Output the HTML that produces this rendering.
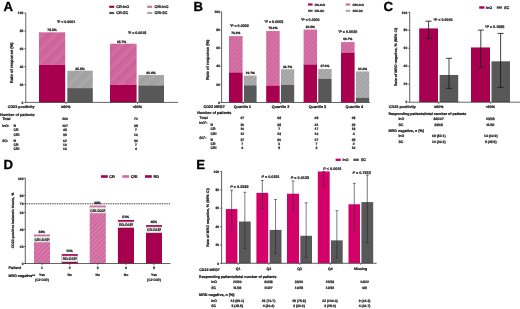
<!DOCTYPE html><html><head><meta charset="utf-8"><title>Figure</title><style>html,body{margin:0;padding:0;background:#fff}svg{display:block}</style></head><body>
<svg width="520" height="309" viewBox="0 0 520 309" font-family="Liberation Sans, Arial, sans-serif" font-weight="bold" text-rendering="geometricPrecision">
<defs>
<pattern id="hpa" width="9" height="9" patternUnits="userSpaceOnUse" patternTransform="rotate(-45)"><rect width="9" height="9" fill="#cf669c"/><rect width="9" height="1.6" fill="#d473a5"/><rect y="4" width="9" height="1.2" fill="#ca5f97"/></pattern>
<pattern id="hga" width="9" height="9" patternUnits="userSpaceOnUse" patternTransform="rotate(-45)"><rect width="9" height="9" fill="#a4a4a4"/><rect width="9" height="1.6" fill="#adadad"/><rect y="4" width="9" height="1.2" fill="#9e9e9e"/></pattern>
<pattern id="hp" width="3.2" height="3.2" patternUnits="userSpaceOnUse" patternTransform="rotate(-45)"><rect width="3.2" height="3.2" fill="#d0689e"/><rect width="3.2" height="1.1" fill="#d679a9"/></pattern>
<pattern id="hg" width="3.2" height="3.2" patternUnits="userSpaceOnUse" patternTransform="rotate(-45)"><rect width="3.2" height="3.2" fill="#a2a2a2"/><rect width="3.2" height="1.1" fill="#b4b4b4"/></pattern>
<pattern id="hp2" width="3.2" height="3.2" patternUnits="userSpaceOnUse" patternTransform="rotate(-45)"><rect width="3.2" height="3.2" fill="#d0689e"/><rect width="3.2" height="1.1" fill="#da84b0"/></pattern>
<filter id="bl" x="0" y="0" width="520" height="309" filterUnits="userSpaceOnUse"><feGaussianBlur stdDeviation="0.32"/></filter>
</defs>
<rect width="520" height="309" fill="#fff"/>
<g filter="url(#bl)">
<text x="3.5" y="11.2" font-size="13.2" fill="#000" stroke="#000" stroke-width="0.3">A</text>
<text x="193.5" y="11.2" font-size="13.2" fill="#000" stroke="#000" stroke-width="0.3">B</text>
<text x="383.6" y="11.2" font-size="13.2" fill="#000" stroke="#000" stroke-width="0.3">C</text>
<text x="3.5" y="169.3" font-size="13.2" fill="#000" stroke="#000" stroke-width="0.3">D</text>
<text x="196.2" y="169.3" font-size="13.2" fill="#000" stroke="#000" stroke-width="0.3">E</text>
<line x1="25.80" y1="12.80" x2="25.80" y2="102.70" stroke="#222" stroke-width="0.7" />
<line x1="24.20" y1="102.40" x2="25.80" y2="102.40" stroke="#222" stroke-width="0.6" />
<text x="23.40" y="103.60" font-size="3.35" text-anchor="end" fill="#1a1a1a" stroke="#1a1a1a" stroke-width="0.22" >0</text>
<line x1="24.20" y1="84.54" x2="25.80" y2="84.54" stroke="#222" stroke-width="0.6" />
<text x="23.40" y="85.74" font-size="3.35" text-anchor="end" fill="#1a1a1a" stroke="#1a1a1a" stroke-width="0.22" >20</text>
<line x1="24.20" y1="66.68" x2="25.80" y2="66.68" stroke="#222" stroke-width="0.6" />
<text x="23.40" y="67.88" font-size="3.35" text-anchor="end" fill="#1a1a1a" stroke="#1a1a1a" stroke-width="0.22" >40</text>
<line x1="24.20" y1="48.82" x2="25.80" y2="48.82" stroke="#222" stroke-width="0.6" />
<text x="23.40" y="50.02" font-size="3.35" text-anchor="end" fill="#1a1a1a" stroke="#1a1a1a" stroke-width="0.22" >60</text>
<line x1="24.20" y1="30.96" x2="25.80" y2="30.96" stroke="#222" stroke-width="0.6" />
<text x="23.40" y="32.16" font-size="3.35" text-anchor="end" fill="#1a1a1a" stroke="#1a1a1a" stroke-width="0.22" >80</text>
<line x1="24.20" y1="13.10" x2="25.80" y2="13.10" stroke="#222" stroke-width="0.6" />
<text x="23.40" y="14.30" font-size="3.35" text-anchor="end" fill="#1a1a1a" stroke="#1a1a1a" stroke-width="0.22" >100</text>
<rect x="39.00" y="32.30" width="26.20" height="32.59" fill="url(#hpa)" />
<rect x="39.00" y="64.89" width="26.20" height="37.51" fill="#a6044f" />
<rect x="67.30" y="70.70" width="25.50" height="17.41" fill="url(#hga)" />
<rect x="67.30" y="88.11" width="25.50" height="14.29" fill="#595959" />
<rect x="110.00" y="43.73" width="26.60" height="41.08" fill="url(#hpa)" />
<rect x="110.00" y="84.81" width="26.60" height="17.59" fill="#a6044f" />
<rect x="138.40" y="75.07" width="25.60" height="10.36" fill="url(#hga)" />
<rect x="138.40" y="85.43" width="25.60" height="16.97" fill="#595959" />
<line x1="25.80" y1="102.40" x2="178.00" y2="102.40" stroke="#222" stroke-width="0.7" />
<line x1="66.20" y1="102.40" x2="66.20" y2="104.00" stroke="#222" stroke-width="0.6" />
<line x1="137.50" y1="102.40" x2="137.50" y2="104.00" stroke="#222" stroke-width="0.6" />
<text x="52.00" y="30.90" font-size="3.3" text-anchor="middle" fill="#1a1a1a" stroke="#1a1a1a" stroke-width="0.22" >78.5%</text>
<text x="80.00" y="69.90" font-size="3.3" text-anchor="middle" fill="#1a1a1a" stroke="#1a1a1a" stroke-width="0.22" >35.5%</text>
<text x="121.60" y="42.60" font-size="3.3" text-anchor="middle" fill="#1a1a1a" stroke="#1a1a1a" stroke-width="0.22" >65.7%</text>
<text x="151.00" y="74.20" font-size="3.3" text-anchor="middle" fill="#1a1a1a" stroke="#1a1a1a" stroke-width="0.22" >30.6%</text>
<text x="57.00" y="23.00" font-size="3.6" text-anchor="start" fill="#1a1a1a" stroke="#1a1a1a" stroke-width="0.22" ><tspan font-size="2.2" dy="-1.2">*</tspan><tspan dy="1.2" font-style="italic">P</tspan> &lt; 0.0001</text>
<text x="128.00" y="34.40" font-size="3.6" text-anchor="start" fill="#1a1a1a" stroke="#1a1a1a" stroke-width="0.22" ><tspan font-size="2.2" dy="-1.2">*</tspan><tspan dy="1.2" font-style="italic">P</tspan> = 0.0015</text>
<text transform="translate(12.60,62.70) rotate(-90)" font-size="4.12" text-anchor="middle" fill="#1a1a1a" stroke="#1a1a1a" stroke-width="0.22">Rate of response (%)</text>
<rect x="109.20" y="5.70" width="5.00" height="2.20" fill="#a6044f" />
<text x="116.20" y="8.00" font-size="3.8" text-anchor="start" fill="#1a1a1a" stroke="#1a1a1a" stroke-width="0.22" >CR-InO</text>
<rect x="109.20" y="11.90" width="5.00" height="2.20" fill="#595959" />
<text x="116.20" y="14.20" font-size="3.8" text-anchor="start" fill="#1a1a1a" stroke="#1a1a1a" stroke-width="0.22" >CR-SC</text>
<rect x="147.20" y="5.70" width="5.00" height="2.20" fill="#d46fa0" />
<text x="154.40" y="8.00" font-size="3.8" text-anchor="start" fill="#1a1a1a" stroke="#1a1a1a" stroke-width="0.22" >CRi-InO</text>
<rect x="147.20" y="11.90" width="5.00" height="2.20" fill="#a8a8a8" />
<text x="154.40" y="14.20" font-size="3.8" text-anchor="start" fill="#1a1a1a" stroke="#1a1a1a" stroke-width="0.22" >CRi-SC</text>
<text x="7.80" y="108.00" font-size="3.7" text-anchor="start" fill="#1a1a1a" stroke="#1a1a1a" stroke-width="0.22" >CD22 positivity</text>
<text x="65.80" y="108.00" font-size="3.6" text-anchor="middle" fill="#1a1a1a" stroke="#1a1a1a" stroke-width="0.22" >≥90%</text>
<text x="137.30" y="108.00" font-size="3.6" text-anchor="middle" fill="#1a1a1a" stroke="#1a1a1a" stroke-width="0.22" >&lt;90%</text>
<text x="0.00" y="115.50" font-size="3.8" text-anchor="start" fill="#1a1a1a" stroke="#1a1a1a" stroke-width="0.22" >Number of patients</text>
<text x="2.40" y="120.00" font-size="3.5" text-anchor="start" fill="#1a1a1a" stroke="#1a1a1a" stroke-width="0.22" >Total</text>
<text x="65.00" y="120.00" font-size="3.4" text-anchor="middle" fill="#1a1a1a" stroke="#1a1a1a" stroke-width="0.22" >200</text>
<text x="136.00" y="120.00" font-size="3.4" text-anchor="middle" fill="#1a1a1a" stroke="#1a1a1a" stroke-width="0.22" >71</text>
<text x="2.20" y="126.80" font-size="3.5" text-anchor="start" fill="#1a1a1a" stroke="#1a1a1a" stroke-width="0.22" >InO:</text>
<text x="13.40" y="126.80" font-size="3.5" text-anchor="start" fill="#1a1a1a" stroke="#1a1a1a" stroke-width="0.22" >N</text>
<text x="65.00" y="126.80" font-size="3.4" text-anchor="middle" fill="#1a1a1a" stroke="#1a1a1a" stroke-width="0.22" >107</text>
<text x="136.00" y="126.80" font-size="3.4" text-anchor="middle" fill="#1a1a1a" stroke="#1a1a1a" stroke-width="0.22" >35</text>
<text x="13.40" y="131.20" font-size="3.5" text-anchor="start" fill="#1a1a1a" stroke="#1a1a1a" stroke-width="0.22" >CR</text>
<text x="65.00" y="131.20" font-size="3.4" text-anchor="middle" fill="#1a1a1a" stroke="#1a1a1a" stroke-width="0.22" >45</text>
<text x="136.00" y="131.20" font-size="3.4" text-anchor="middle" fill="#1a1a1a" stroke="#1a1a1a" stroke-width="0.22" >7</text>
<text x="13.40" y="135.70" font-size="3.5" text-anchor="start" fill="#1a1a1a" stroke="#1a1a1a" stroke-width="0.22" >CRi</text>
<text x="65.00" y="135.70" font-size="3.4" text-anchor="middle" fill="#1a1a1a" stroke="#1a1a1a" stroke-width="0.22" >39</text>
<text x="136.00" y="135.70" font-size="3.4" text-anchor="middle" fill="#1a1a1a" stroke="#1a1a1a" stroke-width="0.22" >16</text>
<text x="2.20" y="141.80" font-size="3.5" text-anchor="start" fill="#1a1a1a" stroke="#1a1a1a" stroke-width="0.22" >SC:</text>
<text x="13.40" y="141.80" font-size="3.5" text-anchor="start" fill="#1a1a1a" stroke="#1a1a1a" stroke-width="0.22" >N</text>
<text x="65.00" y="141.80" font-size="3.4" text-anchor="middle" fill="#1a1a1a" stroke="#1a1a1a" stroke-width="0.22" >62</text>
<text x="136.00" y="141.80" font-size="3.4" text-anchor="middle" fill="#1a1a1a" stroke="#1a1a1a" stroke-width="0.22" >36</text>
<text x="13.40" y="145.90" font-size="3.5" text-anchor="start" fill="#1a1a1a" stroke="#1a1a1a" stroke-width="0.22" >CR</text>
<text x="65.00" y="145.90" font-size="3.4" text-anchor="middle" fill="#1a1a1a" stroke="#1a1a1a" stroke-width="0.22" >10</text>
<text x="136.00" y="145.90" font-size="3.4" text-anchor="middle" fill="#1a1a1a" stroke="#1a1a1a" stroke-width="0.22" >7</text>
<text x="13.40" y="150.20" font-size="3.5" text-anchor="start" fill="#1a1a1a" stroke="#1a1a1a" stroke-width="0.22" >CRi</text>
<text x="65.00" y="150.20" font-size="3.4" text-anchor="middle" fill="#1a1a1a" stroke="#1a1a1a" stroke-width="0.22" >16</text>
<text x="136.00" y="150.20" font-size="3.4" text-anchor="middle" fill="#1a1a1a" stroke="#1a1a1a" stroke-width="0.22" >4</text>
<line x1="221.60" y1="11.60" x2="221.60" y2="102.80" stroke="#222" stroke-width="0.7" />
<line x1="220.40" y1="102.50" x2="221.60" y2="102.50" stroke="#222" stroke-width="0.6" />
<text x="220.00" y="103.70" font-size="3.35" text-anchor="end" fill="#1a1a1a" stroke="#1a1a1a" stroke-width="0.22" >0</text>
<line x1="220.40" y1="84.38" x2="221.60" y2="84.38" stroke="#222" stroke-width="0.6" />
<text x="220.00" y="85.58" font-size="3.35" text-anchor="end" fill="#1a1a1a" stroke="#1a1a1a" stroke-width="0.22" >20</text>
<line x1="220.40" y1="66.26" x2="221.60" y2="66.26" stroke="#222" stroke-width="0.6" />
<text x="220.00" y="67.46" font-size="3.35" text-anchor="end" fill="#1a1a1a" stroke="#1a1a1a" stroke-width="0.22" >40</text>
<line x1="220.40" y1="48.14" x2="221.60" y2="48.14" stroke="#222" stroke-width="0.6" />
<text x="220.00" y="49.34" font-size="3.35" text-anchor="end" fill="#1a1a1a" stroke="#1a1a1a" stroke-width="0.22" >60</text>
<line x1="220.40" y1="30.02" x2="221.60" y2="30.02" stroke="#222" stroke-width="0.6" />
<text x="220.00" y="31.22" font-size="3.35" text-anchor="end" fill="#1a1a1a" stroke="#1a1a1a" stroke-width="0.22" >80</text>
<line x1="220.40" y1="11.90" x2="221.60" y2="11.90" stroke="#222" stroke-width="0.6" />
<text x="220.00" y="13.10" font-size="3.35" text-anchor="end" fill="#1a1a1a" stroke="#1a1a1a" stroke-width="0.22" >100</text>
<line x1="221.20" y1="102.50" x2="370.00" y2="102.50" stroke="#222" stroke-width="0.7" />
<rect x="229.00" y="36.09" width="13.60" height="36.33" fill="url(#hp)" />
<rect x="229.00" y="72.42" width="13.60" height="30.08" fill="#a6044f" />
<rect x="244.00" y="75.59" width="12.60" height="9.69" fill="url(#hg)" />
<rect x="244.00" y="85.29" width="12.60" height="17.21" fill="#595959" />
<line x1="243.20" y1="102.50" x2="243.20" y2="104.10" stroke="#222" stroke-width="0.6" />
<text x="235.80" y="34.49" font-size="3.2" text-anchor="middle" fill="#1a1a1a" stroke="#1a1a1a" stroke-width="0.22" >73.3%</text>
<text x="250.30" y="73.99" font-size="3.2" text-anchor="middle" fill="#1a1a1a" stroke="#1a1a1a" stroke-width="0.22" >29.7%</text>
<text x="230.00" y="27.09" font-size="3.7" text-anchor="start" fill="#1a1a1a" stroke="#1a1a1a" stroke-width="0.22" ><tspan font-size="2.3" dy="-1.2">*</tspan><tspan dy="1.2" font-style="italic">P</tspan> = 0.0002</text>
<rect x="266.20" y="31.02" width="13.50" height="54.54" fill="url(#hp)" />
<rect x="266.20" y="85.56" width="13.50" height="16.94" fill="#a6044f" />
<rect x="281.00" y="69.25" width="13.20" height="15.49" fill="url(#hg)" />
<rect x="281.00" y="84.74" width="13.20" height="17.76" fill="#595959" />
<line x1="280.30" y1="102.50" x2="280.30" y2="104.10" stroke="#222" stroke-width="0.6" />
<text x="272.95" y="29.42" font-size="3.2" text-anchor="middle" fill="#1a1a1a" stroke="#1a1a1a" stroke-width="0.22" >78.9%</text>
<text x="287.60" y="67.65" font-size="3.2" text-anchor="middle" fill="#1a1a1a" stroke="#1a1a1a" stroke-width="0.22" >36.7%</text>
<text x="264.50" y="22.72" font-size="3.7" text-anchor="start" fill="#1a1a1a" stroke="#1a1a1a" stroke-width="0.22" ><tspan font-size="2.3" dy="-1.2">*</tspan><tspan dy="1.2" font-style="italic">P</tspan> = 0.0003</text>
<rect x="303.60" y="29.57" width="13.40" height="34.88" fill="url(#hp)" />
<rect x="303.60" y="64.45" width="13.40" height="38.05" fill="#a6044f" />
<rect x="318.20" y="68.98" width="13.40" height="9.69" fill="url(#hg)" />
<rect x="318.20" y="78.67" width="13.40" height="23.83" fill="#595959" />
<line x1="317.60" y1="102.50" x2="317.60" y2="104.10" stroke="#222" stroke-width="0.6" />
<text x="310.30" y="27.97" font-size="3.2" text-anchor="middle" fill="#1a1a1a" stroke="#1a1a1a" stroke-width="0.22" >80.5%</text>
<text x="324.90" y="67.38" font-size="3.2" text-anchor="middle" fill="#1a1a1a" stroke="#1a1a1a" stroke-width="0.22" >37.0%</text>
<text x="301.00" y="20.77" font-size="3.7" text-anchor="start" fill="#1a1a1a" stroke="#1a1a1a" stroke-width="0.22" ><tspan font-size="2.3" dy="-1.2">*</tspan><tspan dy="1.2" font-style="italic">P</tspan> &lt; 0.0001</text>
<rect x="341.00" y="42.07" width="13.60" height="10.51" fill="url(#hp)" />
<rect x="341.00" y="52.58" width="13.60" height="49.92" fill="#a6044f" />
<rect x="355.90" y="71.42" width="13.30" height="26.27" fill="url(#hg)" />
<rect x="355.90" y="97.70" width="13.30" height="4.80" fill="#595959" />
<line x1="355.20" y1="102.50" x2="355.20" y2="104.10" stroke="#222" stroke-width="0.6" />
<text x="347.80" y="40.47" font-size="3.2" text-anchor="middle" fill="#1a1a1a" stroke="#1a1a1a" stroke-width="0.22" >66.7%</text>
<text x="362.55" y="69.82" font-size="3.2" text-anchor="middle" fill="#1a1a1a" stroke="#1a1a1a" stroke-width="0.22" >34.3%</text>
<text x="338.40" y="32.97" font-size="3.7" text-anchor="start" fill="#1a1a1a" stroke="#1a1a1a" stroke-width="0.22" ><tspan font-size="2.3" dy="-1.2">*</tspan><tspan dy="1.2" font-style="italic">P</tspan> = 0.0030</text>
<text transform="translate(208.70,59.80) rotate(-90)" font-size="4.08" text-anchor="middle" fill="#1a1a1a" stroke="#1a1a1a" stroke-width="0.22">Rate of response (%)</text>
<rect x="308.00" y="3.45" width="4.60" height="2.10" fill="#a6044f" />
<text x="314.40" y="5.70" font-size="3.1" text-anchor="start" fill="#1a1a1a" stroke="#1a1a1a" stroke-width="0.22" >CR-InO</text>
<rect x="308.00" y="9.75" width="4.60" height="2.10" fill="#595959" />
<text x="314.40" y="12.00" font-size="3.1" text-anchor="start" fill="#1a1a1a" stroke="#1a1a1a" stroke-width="0.22" >CR-SC</text>
<rect x="345.60" y="3.45" width="4.60" height="2.10" fill="#d0689e" />
<text x="352.40" y="5.70" font-size="3.1" text-anchor="start" fill="#1a1a1a" stroke="#1a1a1a" stroke-width="0.22" >CRi-InO</text>
<rect x="345.60" y="9.75" width="4.60" height="2.10" fill="#a8a8a8" />
<text x="352.40" y="12.00" font-size="3.1" text-anchor="start" fill="#1a1a1a" stroke="#1a1a1a" stroke-width="0.22" >CRi-SC</text>
<text x="203.40" y="107.70" font-size="3.8" text-anchor="start" fill="#1a1a1a" stroke="#1a1a1a" stroke-width="0.22" >CD22 MESF</text>
<text x="242.40" y="108.20" font-size="3.8" text-anchor="middle" fill="#1a1a1a" stroke="#1a1a1a" stroke-width="0.22" >Quartile 1</text>
<text x="280.50" y="108.20" font-size="3.8" text-anchor="middle" fill="#1a1a1a" stroke="#1a1a1a" stroke-width="0.22" >Quartile 2</text>
<text x="317.40" y="108.20" font-size="3.8" text-anchor="middle" fill="#1a1a1a" stroke="#1a1a1a" stroke-width="0.22" >Quartile 3</text>
<text x="354.30" y="108.20" font-size="3.8" text-anchor="middle" fill="#1a1a1a" stroke="#1a1a1a" stroke-width="0.22" >Quartile 4</text>
<text x="197.20" y="113.70" font-size="3.75" text-anchor="start" fill="#1a1a1a" stroke="#1a1a1a" stroke-width="0.22" >Number of patients</text>
<text x="199.60" y="118.70" font-size="3.5" text-anchor="start" fill="#1a1a1a" stroke="#1a1a1a" stroke-width="0.22" >Total</text>
<text x="242.30" y="118.70" font-size="3.4" text-anchor="middle" fill="#1a1a1a" stroke="#1a1a1a" stroke-width="0.22" >67</text>
<text x="279.20" y="118.70" font-size="3.4" text-anchor="middle" fill="#1a1a1a" stroke="#1a1a1a" stroke-width="0.22" >68</text>
<text x="316.50" y="118.70" font-size="3.4" text-anchor="middle" fill="#1a1a1a" stroke="#1a1a1a" stroke-width="0.22" >68</text>
<text x="353.60" y="118.70" font-size="3.4" text-anchor="middle" fill="#1a1a1a" stroke="#1a1a1a" stroke-width="0.22" >68</text>
<text x="199.20" y="124.20" font-size="3.5" text-anchor="start" fill="#1a1a1a" stroke="#1a1a1a" stroke-width="0.22" >InO<tspan font-size="2.2" dy="-1.3">†</tspan><tspan dy="1.3">:</tspan></text>
<text x="210.40" y="126.10" font-size="3.5" text-anchor="start" fill="#1a1a1a" stroke="#1a1a1a" stroke-width="0.22" >N</text>
<text x="242.30" y="126.10" font-size="3.4" text-anchor="middle" fill="#1a1a1a" stroke="#1a1a1a" stroke-width="0.22" >30</text>
<text x="279.20" y="126.10" font-size="3.4" text-anchor="middle" fill="#1a1a1a" stroke="#1a1a1a" stroke-width="0.22" >38</text>
<text x="316.50" y="126.10" font-size="3.4" text-anchor="middle" fill="#1a1a1a" stroke="#1a1a1a" stroke-width="0.22" >41</text>
<text x="353.60" y="126.10" font-size="3.4" text-anchor="middle" fill="#1a1a1a" stroke="#1a1a1a" stroke-width="0.22" >33</text>
<text x="210.40" y="130.30" font-size="3.5" text-anchor="start" fill="#1a1a1a" stroke="#1a1a1a" stroke-width="0.22" >CR</text>
<text x="242.30" y="130.30" font-size="3.4" text-anchor="middle" fill="#1a1a1a" stroke="#1a1a1a" stroke-width="0.22" >10</text>
<text x="279.20" y="130.30" font-size="3.4" text-anchor="middle" fill="#1a1a1a" stroke="#1a1a1a" stroke-width="0.22" >7</text>
<text x="316.50" y="130.30" font-size="3.4" text-anchor="middle" fill="#1a1a1a" stroke="#1a1a1a" stroke-width="0.22" >17</text>
<text x="353.60" y="130.30" font-size="3.4" text-anchor="middle" fill="#1a1a1a" stroke="#1a1a1a" stroke-width="0.22" >18</text>
<text x="210.40" y="134.60" font-size="3.5" text-anchor="start" fill="#1a1a1a" stroke="#1a1a1a" stroke-width="0.22" >CRi</text>
<text x="242.30" y="134.60" font-size="3.4" text-anchor="middle" fill="#1a1a1a" stroke="#1a1a1a" stroke-width="0.22" >12</text>
<text x="279.20" y="134.60" font-size="3.4" text-anchor="middle" fill="#1a1a1a" stroke="#1a1a1a" stroke-width="0.22" >23</text>
<text x="316.50" y="134.60" font-size="3.4" text-anchor="middle" fill="#1a1a1a" stroke="#1a1a1a" stroke-width="0.22" >16</text>
<text x="353.60" y="134.60" font-size="3.4" text-anchor="middle" fill="#1a1a1a" stroke="#1a1a1a" stroke-width="0.22" >4</text>
<text x="199.20" y="139.10" font-size="3.5" text-anchor="start" fill="#1a1a1a" stroke="#1a1a1a" stroke-width="0.22" >SC<tspan font-size="2.2" dy="-1.3">†</tspan><tspan dy="1.3">:</tspan></text>
<text x="210.40" y="141.40" font-size="3.5" text-anchor="start" fill="#1a1a1a" stroke="#1a1a1a" stroke-width="0.22" >N</text>
<text x="242.30" y="141.40" font-size="3.4" text-anchor="middle" fill="#1a1a1a" stroke="#1a1a1a" stroke-width="0.22" >37</text>
<text x="279.20" y="141.40" font-size="3.4" text-anchor="middle" fill="#1a1a1a" stroke="#1a1a1a" stroke-width="0.22" >30</text>
<text x="316.50" y="141.40" font-size="3.4" text-anchor="middle" fill="#1a1a1a" stroke="#1a1a1a" stroke-width="0.22" >27</text>
<text x="353.60" y="141.40" font-size="3.4" text-anchor="middle" fill="#1a1a1a" stroke="#1a1a1a" stroke-width="0.22" >35</text>
<text x="210.40" y="144.90" font-size="3.5" text-anchor="start" fill="#1a1a1a" stroke="#1a1a1a" stroke-width="0.22" >CR</text>
<text x="242.30" y="144.90" font-size="3.4" text-anchor="middle" fill="#1a1a1a" stroke="#1a1a1a" stroke-width="0.22" >7</text>
<text x="279.20" y="144.90" font-size="3.4" text-anchor="middle" fill="#1a1a1a" stroke="#1a1a1a" stroke-width="0.22" >6</text>
<text x="316.50" y="144.90" font-size="3.4" text-anchor="middle" fill="#1a1a1a" stroke="#1a1a1a" stroke-width="0.22" >7</text>
<text x="353.60" y="144.90" font-size="3.4" text-anchor="middle" fill="#1a1a1a" stroke="#1a1a1a" stroke-width="0.22" >2</text>
<text x="210.40" y="148.80" font-size="3.5" text-anchor="start" fill="#1a1a1a" stroke="#1a1a1a" stroke-width="0.22" >CRi</text>
<text x="242.30" y="148.80" font-size="3.4" text-anchor="middle" fill="#1a1a1a" stroke="#1a1a1a" stroke-width="0.22" >4</text>
<text x="279.20" y="148.80" font-size="3.4" text-anchor="middle" fill="#1a1a1a" stroke="#1a1a1a" stroke-width="0.22" >5</text>
<text x="316.50" y="148.80" font-size="3.4" text-anchor="middle" fill="#1a1a1a" stroke="#1a1a1a" stroke-width="0.22" >3</text>
<text x="353.60" y="148.80" font-size="3.4" text-anchor="middle" fill="#1a1a1a" stroke="#1a1a1a" stroke-width="0.22" >10</text>
<line x1="409.70" y1="12.00" x2="409.70" y2="102.50" stroke="#222" stroke-width="0.7" />
<line x1="408.10" y1="102.20" x2="409.70" y2="102.20" stroke="#222" stroke-width="0.6" />
<text x="407.30" y="103.40" font-size="3.35" text-anchor="end" fill="#1a1a1a" stroke="#1a1a1a" stroke-width="0.22" >0</text>
<line x1="408.10" y1="84.22" x2="409.70" y2="84.22" stroke="#222" stroke-width="0.6" />
<text x="407.30" y="85.42" font-size="3.35" text-anchor="end" fill="#1a1a1a" stroke="#1a1a1a" stroke-width="0.22" >20</text>
<line x1="408.10" y1="66.24" x2="409.70" y2="66.24" stroke="#222" stroke-width="0.6" />
<text x="407.30" y="67.44" font-size="3.35" text-anchor="end" fill="#1a1a1a" stroke="#1a1a1a" stroke-width="0.22" >40</text>
<line x1="408.10" y1="48.26" x2="409.70" y2="48.26" stroke="#222" stroke-width="0.6" />
<text x="407.30" y="49.46" font-size="3.35" text-anchor="end" fill="#1a1a1a" stroke="#1a1a1a" stroke-width="0.22" >60</text>
<line x1="408.10" y1="30.28" x2="409.70" y2="30.28" stroke="#222" stroke-width="0.6" />
<text x="407.30" y="31.48" font-size="3.35" text-anchor="end" fill="#1a1a1a" stroke="#1a1a1a" stroke-width="0.22" >80</text>
<line x1="408.10" y1="12.30" x2="409.70" y2="12.30" stroke="#222" stroke-width="0.6" />
<text x="407.30" y="13.50" font-size="3.35" text-anchor="end" fill="#1a1a1a" stroke="#1a1a1a" stroke-width="0.22" >100</text>
<rect x="419.20" y="28.39" width="18.80" height="73.81" fill="#a6044f" />
<rect x="439.60" y="74.96" width="18.60" height="27.24" fill="#595959" />
<rect x="471.00" y="47.45" width="19.00" height="54.75" fill="#a6044f" />
<rect x="491.50" y="61.30" width="18.50" height="40.90" fill="#595959" />
<line x1="409.80" y1="102.20" x2="520.00" y2="102.20" stroke="#222" stroke-width="0.7" />
<line x1="438.80" y1="102.20" x2="438.80" y2="103.80" stroke="#222" stroke-width="0.6" />
<line x1="490.60" y1="102.20" x2="490.60" y2="103.80" stroke="#222" stroke-width="0.6" />
<line x1="428.60" y1="21.20" x2="428.60" y2="38.40" stroke="#141414" stroke-width="0.8" />
<line x1="425.60" y1="21.20" x2="431.60" y2="21.20" stroke="#141414" stroke-width="0.8" />
<line x1="425.60" y1="38.40" x2="431.60" y2="38.40" stroke="#141414" stroke-width="0.8" />
<line x1="449.00" y1="58.30" x2="449.00" y2="88.30" stroke="#141414" stroke-width="0.8" />
<line x1="446.00" y1="58.30" x2="452.00" y2="58.30" stroke="#141414" stroke-width="0.8" />
<line x1="446.00" y1="88.30" x2="452.00" y2="88.30" stroke="#141414" stroke-width="0.8" />
<line x1="480.80" y1="30.10" x2="480.80" y2="67.50" stroke="#141414" stroke-width="0.8" />
<line x1="477.80" y1="30.10" x2="483.80" y2="30.10" stroke="#141414" stroke-width="0.8" />
<line x1="477.80" y1="67.50" x2="483.80" y2="67.50" stroke="#141414" stroke-width="0.8" />
<line x1="500.60" y1="33.40" x2="500.60" y2="87.30" stroke="#141414" stroke-width="0.8" />
<line x1="497.60" y1="33.40" x2="503.60" y2="33.40" stroke="#141414" stroke-width="0.8" />
<line x1="497.60" y1="87.30" x2="503.60" y2="87.30" stroke="#141414" stroke-width="0.8" />
<text x="433.60" y="20.70" font-size="3.7" text-anchor="start" fill="#1a1a1a" stroke="#1a1a1a" stroke-width="0.22" ><tspan font-size="2.2" dy="-1.2">‡</tspan><tspan dy="1.2" font-style="italic">P</tspan> &lt; 0.0001</text>
<text x="485.20" y="28.00" font-size="3.7" text-anchor="start" fill="#1a1a1a" stroke="#1a1a1a" stroke-width="0.22" ><tspan font-size="2.2" dy="-1.2">‡</tspan><tspan dy="1.2" font-style="italic">P</tspan> = 0.1565</text>
<text transform="translate(396.50,57.00) rotate(-90)" font-size="3.68" text-anchor="middle" fill="#1a1a1a" stroke="#1a1a1a" stroke-width="0.22">Rate of MRD negative, % (95% CI)</text>
<rect x="479.20" y="6.30" width="5.30" height="2.40" fill="#a6044f" />
<text x="486.00" y="8.70" font-size="3.8" text-anchor="start" fill="#1a1a1a" stroke="#1a1a1a" stroke-width="0.22" >InO</text>
<rect x="496.70" y="6.30" width="5.30" height="2.40" fill="#595959" />
<text x="503.90" y="8.70" font-size="3.8" text-anchor="start" fill="#1a1a1a" stroke="#1a1a1a" stroke-width="0.22" >SC</text>
<text x="388.80" y="108.10" font-size="3.75" text-anchor="start" fill="#1a1a1a" stroke="#1a1a1a" stroke-width="0.22" >CD22 positivity</text>
<text x="438.80" y="108.10" font-size="3.6" text-anchor="middle" fill="#1a1a1a" stroke="#1a1a1a" stroke-width="0.22" >≥90%</text>
<text x="490.30" y="108.10" font-size="3.6" text-anchor="middle" fill="#1a1a1a" stroke="#1a1a1a" stroke-width="0.22" >&lt;90%</text>
<text x="388.50" y="114.80" font-size="3.62" text-anchor="start" fill="#1a1a1a" stroke="#1a1a1a" stroke-width="0.22" >Responding patients/total number of patients</text>
<text x="398.40" y="120.20" font-size="3.5" text-anchor="start" fill="#1a1a1a" stroke="#1a1a1a" stroke-width="0.22" >InO</text>
<text x="438.60" y="120.20" font-size="3.4" text-anchor="middle" fill="#1a1a1a" stroke="#1a1a1a" stroke-width="0.22" >84/107</text>
<text x="490.30" y="120.20" font-size="3.4" text-anchor="middle" fill="#1a1a1a" stroke="#1a1a1a" stroke-width="0.22" >23/35</text>
<text x="398.40" y="125.90" font-size="3.5" text-anchor="start" fill="#1a1a1a" stroke="#1a1a1a" stroke-width="0.22" >SC</text>
<text x="438.60" y="125.90" font-size="3.4" text-anchor="middle" fill="#1a1a1a" stroke="#1a1a1a" stroke-width="0.22" >33/65</text>
<text x="490.30" y="125.90" font-size="3.4" text-anchor="middle" fill="#1a1a1a" stroke="#1a1a1a" stroke-width="0.22" >11/32</text>
<text x="388.50" y="131.70" font-size="3.7" text-anchor="start" fill="#1a1a1a" stroke="#1a1a1a" stroke-width="0.22" >MRD negative, <tspan font-style="italic">n</tspan> (%)</text>
<text x="398.40" y="137.20" font-size="3.5" text-anchor="start" fill="#1a1a1a" stroke="#1a1a1a" stroke-width="0.22" >InO</text>
<text x="438.80" y="137.20" font-size="3.4" text-anchor="middle" fill="#1a1a1a" stroke="#1a1a1a" stroke-width="0.22" >69 (82.1)</text>
<text x="490.80" y="137.20" font-size="3.4" text-anchor="middle" fill="#1a1a1a" stroke="#1a1a1a" stroke-width="0.22" >14 (60.9)</text>
<text x="398.40" y="142.60" font-size="3.5" text-anchor="start" fill="#1a1a1a" stroke="#1a1a1a" stroke-width="0.22" >SC</text>
<text x="438.80" y="142.60" font-size="3.4" text-anchor="middle" fill="#1a1a1a" stroke="#1a1a1a" stroke-width="0.22" >10 (30.3)</text>
<text x="490.80" y="142.60" font-size="3.4" text-anchor="middle" fill="#1a1a1a" stroke="#1a1a1a" stroke-width="0.22" >5 (45.5)</text>
<line x1="25.30" y1="177.90" x2="25.30" y2="263.80" stroke="#222" stroke-width="0.7" />
<line x1="23.90" y1="263.50" x2="25.30" y2="263.50" stroke="#222" stroke-width="0.6" />
<text x="23.60" y="265.00" font-size="3.35" text-anchor="end" fill="#1a1a1a" stroke="#1a1a1a" stroke-width="0.22" >0</text>
<line x1="23.90" y1="246.44" x2="25.30" y2="246.44" stroke="#222" stroke-width="0.6" />
<text x="23.60" y="247.94" font-size="3.35" text-anchor="end" fill="#1a1a1a" stroke="#1a1a1a" stroke-width="0.22" >20</text>
<line x1="23.90" y1="229.38" x2="25.30" y2="229.38" stroke="#222" stroke-width="0.6" />
<text x="23.60" y="230.88" font-size="3.35" text-anchor="end" fill="#1a1a1a" stroke="#1a1a1a" stroke-width="0.22" >40</text>
<line x1="23.90" y1="212.32" x2="25.30" y2="212.32" stroke="#222" stroke-width="0.6" />
<text x="23.60" y="213.82" font-size="3.35" text-anchor="end" fill="#1a1a1a" stroke="#1a1a1a" stroke-width="0.22" >60</text>
<line x1="23.90" y1="203.79" x2="25.30" y2="203.79" stroke="#222" stroke-width="0.6" />
<text x="23.60" y="205.29" font-size="3.35" text-anchor="end" fill="#1a1a1a" stroke="#1a1a1a" stroke-width="0.22" >70</text>
<line x1="23.90" y1="195.26" x2="25.30" y2="195.26" stroke="#222" stroke-width="0.6" />
<text x="23.60" y="196.76" font-size="3.35" text-anchor="end" fill="#1a1a1a" stroke="#1a1a1a" stroke-width="0.22" >80</text>
<line x1="23.90" y1="178.20" x2="25.30" y2="178.20" stroke="#222" stroke-width="0.6" />
<text x="23.60" y="179.70" font-size="3.35" text-anchor="end" fill="#1a1a1a" stroke="#1a1a1a" stroke-width="0.22" >100</text>
<line x1="25.50" y1="203.79" x2="170.00" y2="203.79" stroke="#222" stroke-width="1.0" stroke-dasharray="0.95 0.8"/>
<rect x="34.00" y="234.50" width="16.00" height="29.00" fill="url(#hp2)" />
<rect x="34.00" y="236.20" width="16.00" height="6.10" fill="#f2f2f2" />
<line x1="34.00" y1="236.65" x2="50.00" y2="236.65" stroke="#8a8a8a" stroke-width="0.45" stroke-dasharray="0.6 0.6"/>
<line x1="34.00" y1="242.00" x2="50.00" y2="242.00" stroke="#8a8a8a" stroke-width="0.45" stroke-dasharray="0.6 0.6"/>
<text x="42.00" y="240.60" font-size="3.55" text-anchor="middle" fill="#2a2a2a" stroke="#2a2a2a" stroke-width="0.22" >CRi-D15<tspan font-size="2.2" dy="-1.1">§</tspan></text>
<text x="41.70" y="232.70" font-size="3.3" text-anchor="middle" fill="#1a1a1a" stroke="#1a1a1a" stroke-width="0.22" >34%</text>
<line x1="42.00" y1="263.50" x2="42.00" y2="265.00" stroke="#222" stroke-width="0.6" />
<text x="42.00" y="269.30" font-size="3.4" text-anchor="middle" fill="#1a1a1a" stroke="#1a1a1a" stroke-width="0.22" >1</text>
<rect x="61.70" y="254.12" width="16.10" height="9.38" fill="#a6044f" />
<rect x="61.70" y="255.82" width="16.10" height="6.10" fill="#f2f2f2" />
<line x1="61.70" y1="256.27" x2="77.80" y2="256.27" stroke="#8a8a8a" stroke-width="0.45" stroke-dasharray="0.6 0.6"/>
<line x1="61.70" y1="261.62" x2="77.80" y2="261.62" stroke="#8a8a8a" stroke-width="0.45" stroke-dasharray="0.6 0.6"/>
<text x="69.75" y="260.22" font-size="3.55" text-anchor="middle" fill="#2a2a2a" stroke="#2a2a2a" stroke-width="0.22" >RD-D15<tspan font-size="2.2" dy="-1.1">§</tspan></text>
<text x="69.45" y="252.32" font-size="3.3" text-anchor="middle" fill="#1a1a1a" stroke="#1a1a1a" stroke-width="0.22" >11%</text>
<line x1="69.75" y1="263.50" x2="69.75" y2="265.00" stroke="#222" stroke-width="0.6" />
<text x="69.75" y="269.30" font-size="3.4" text-anchor="middle" fill="#1a1a1a" stroke="#1a1a1a" stroke-width="0.22" >2</text>
<rect x="89.70" y="205.50" width="16.10" height="58.00" fill="url(#hp2)" />
<rect x="89.70" y="207.20" width="16.10" height="6.10" fill="#f2f2f2" />
<line x1="89.70" y1="207.65" x2="105.80" y2="207.65" stroke="#8a8a8a" stroke-width="0.45" stroke-dasharray="0.6 0.6"/>
<line x1="89.70" y1="213.00" x2="105.80" y2="213.00" stroke="#8a8a8a" stroke-width="0.45" stroke-dasharray="0.6 0.6"/>
<text x="97.75" y="211.60" font-size="3.55" text-anchor="middle" fill="#2a2a2a" stroke="#2a2a2a" stroke-width="0.22" >CRi-D22<tspan font-size="2.2" dy="-1.1">§</tspan></text>
<text x="97.45" y="203.70" font-size="3.3" text-anchor="middle" fill="#1a1a1a" stroke="#1a1a1a" stroke-width="0.22" >68%</text>
<line x1="97.75" y1="263.50" x2="97.75" y2="265.00" stroke="#222" stroke-width="0.6" />
<text x="97.75" y="269.30" font-size="3.4" text-anchor="middle" fill="#1a1a1a" stroke="#1a1a1a" stroke-width="0.22" >3</text>
<rect x="117.90" y="220.00" width="16.10" height="43.50" fill="#a6044f" />
<rect x="117.90" y="221.70" width="16.10" height="6.10" fill="#f2f2f2" />
<line x1="117.90" y1="222.15" x2="134.00" y2="222.15" stroke="#8a8a8a" stroke-width="0.45" stroke-dasharray="0.6 0.6"/>
<line x1="117.90" y1="227.50" x2="134.00" y2="227.50" stroke="#8a8a8a" stroke-width="0.45" stroke-dasharray="0.6 0.6"/>
<text x="125.95" y="226.10" font-size="3.55" text-anchor="middle" fill="#2a2a2a" stroke="#2a2a2a" stroke-width="0.22" >RD-D15<tspan font-size="2.2" dy="-1.1">§</tspan></text>
<text x="125.65" y="218.20" font-size="3.3" text-anchor="middle" fill="#1a1a1a" stroke="#1a1a1a" stroke-width="0.22" >51%</text>
<line x1="125.95" y1="263.50" x2="125.95" y2="265.00" stroke="#222" stroke-width="0.6" />
<text x="125.95" y="269.30" font-size="3.4" text-anchor="middle" fill="#1a1a1a" stroke="#1a1a1a" stroke-width="0.22" >4</text>
<rect x="146.00" y="225.12" width="16.00" height="38.38" fill="#a6044f" />
<rect x="146.00" y="226.81" width="16.00" height="6.10" fill="#f2f2f2" />
<line x1="146.00" y1="227.26" x2="162.00" y2="227.26" stroke="#8a8a8a" stroke-width="0.45" stroke-dasharray="0.6 0.6"/>
<line x1="146.00" y1="232.62" x2="162.00" y2="232.62" stroke="#8a8a8a" stroke-width="0.45" stroke-dasharray="0.6 0.6"/>
<text x="154.00" y="231.22" font-size="3.55" text-anchor="middle" fill="#2a2a2a" stroke="#2a2a2a" stroke-width="0.22" >CR-D15<tspan font-size="2.2" dy="-1.1">§</tspan></text>
<text x="153.70" y="223.31" font-size="3.3" text-anchor="middle" fill="#1a1a1a" stroke="#1a1a1a" stroke-width="0.22" >45%</text>
<line x1="154.00" y1="263.50" x2="154.00" y2="265.00" stroke="#222" stroke-width="0.6" />
<text x="154.00" y="269.30" font-size="3.4" text-anchor="middle" fill="#1a1a1a" stroke="#1a1a1a" stroke-width="0.22" >5</text>
<line x1="24.90" y1="263.50" x2="170.50" y2="263.50" stroke="#222" stroke-width="0.7" />
<text transform="translate(13.70,220.50) rotate(-90)" font-size="3.52" text-anchor="middle" fill="#1a1a1a" stroke="#1a1a1a" stroke-width="0.22">CD22-positive leukemic blasts, %</text>
<rect x="101.00" y="175.20" width="6.80" height="2.60" fill="#a6044f" />
<text x="109.20" y="177.70" font-size="3.9" text-anchor="start" fill="#1a1a1a" stroke="#1a1a1a" stroke-width="0.22" >CR</text>
<rect x="122.30" y="175.20" width="6.80" height="2.60" fill="#d0689e" />
<text x="130.70" y="177.70" font-size="3.9" text-anchor="start" fill="#1a1a1a" stroke="#1a1a1a" stroke-width="0.22" >CRi</text>
<rect x="145.00" y="175.20" width="6.80" height="2.60" fill="#a6044f" />
<text x="153.40" y="177.70" font-size="3.9" text-anchor="start" fill="#1a1a1a" stroke="#1a1a1a" stroke-width="0.22" >RD</text>
<text x="8.60" y="269.30" font-size="3.75" text-anchor="start" fill="#1a1a1a" stroke="#1a1a1a" stroke-width="0.22" >Patient</text>
<text x="8.60" y="276.50" font-size="3.6" text-anchor="start" fill="#1a1a1a" stroke="#1a1a1a" stroke-width="0.22" >MRD negative**</text>
<text x="42.00" y="276.30" font-size="3.4" text-anchor="middle" fill="#1a1a1a" stroke="#1a1a1a" stroke-width="0.22" >Yes</text>
<text x="69.70" y="276.30" font-size="3.4" text-anchor="middle" fill="#1a1a1a" stroke="#1a1a1a" stroke-width="0.22" >No</text>
<text x="97.70" y="276.30" font-size="3.4" text-anchor="middle" fill="#1a1a1a" stroke="#1a1a1a" stroke-width="0.22" >No</text>
<text x="126.00" y="276.30" font-size="3.4" text-anchor="middle" fill="#1a1a1a" stroke="#1a1a1a" stroke-width="0.22" >No</text>
<text x="154.00" y="276.30" font-size="3.4" text-anchor="middle" fill="#1a1a1a" stroke="#1a1a1a" stroke-width="0.22" >Yes</text>
<text x="42.00" y="281.30" font-size="3.4" text-anchor="middle" fill="#1a1a1a" stroke="#1a1a1a" stroke-width="0.22" >(C2 D22)</text>
<text x="154.00" y="281.30" font-size="3.4" text-anchor="middle" fill="#1a1a1a" stroke="#1a1a1a" stroke-width="0.22" >(C2 D22)</text>
<line x1="221.60" y1="171.20" x2="221.60" y2="263.60" stroke="#222" stroke-width="0.7" />
<line x1="220.00" y1="263.30" x2="221.60" y2="263.30" stroke="#222" stroke-width="0.6" />
<text x="219.20" y="264.50" font-size="3.35" text-anchor="end" fill="#1a1a1a" stroke="#1a1a1a" stroke-width="0.22" >0</text>
<line x1="220.00" y1="244.94" x2="221.60" y2="244.94" stroke="#222" stroke-width="0.6" />
<text x="219.20" y="246.14" font-size="3.35" text-anchor="end" fill="#1a1a1a" stroke="#1a1a1a" stroke-width="0.22" >20</text>
<line x1="220.00" y1="226.58" x2="221.60" y2="226.58" stroke="#222" stroke-width="0.6" />
<text x="219.20" y="227.78" font-size="3.35" text-anchor="end" fill="#1a1a1a" stroke="#1a1a1a" stroke-width="0.22" >40</text>
<line x1="220.00" y1="208.22" x2="221.60" y2="208.22" stroke="#222" stroke-width="0.6" />
<text x="219.20" y="209.42" font-size="3.35" text-anchor="end" fill="#1a1a1a" stroke="#1a1a1a" stroke-width="0.22" >60</text>
<line x1="220.00" y1="189.86" x2="221.60" y2="189.86" stroke="#222" stroke-width="0.6" />
<text x="219.20" y="191.06" font-size="3.35" text-anchor="end" fill="#1a1a1a" stroke="#1a1a1a" stroke-width="0.22" >80</text>
<line x1="220.00" y1="171.50" x2="221.60" y2="171.50" stroke="#222" stroke-width="0.6" />
<text x="219.20" y="172.70" font-size="3.35" text-anchor="end" fill="#1a1a1a" stroke="#1a1a1a" stroke-width="0.22" >100</text>
<rect x="225.80" y="209.05" width="11.60" height="54.25" fill="#d4046a" />
<rect x="239.00" y="221.53" width="11.70" height="41.77" fill="#595959" />
<line x1="231.60" y1="190.20" x2="231.60" y2="230.00" stroke="#262626" stroke-width="0.6" />
<line x1="230.20" y1="190.20" x2="233.00" y2="190.20" stroke="#262626" stroke-width="0.6" />
<line x1="230.20" y1="230.00" x2="233.00" y2="230.00" stroke="#262626" stroke-width="0.6" />
<line x1="244.85" y1="192.30" x2="244.85" y2="248.50" stroke="#262626" stroke-width="0.6" />
<line x1="243.45" y1="192.30" x2="246.25" y2="192.30" stroke="#262626" stroke-width="0.6" />
<line x1="243.45" y1="248.50" x2="246.25" y2="248.50" stroke="#262626" stroke-width="0.6" />
<text x="230.30" y="187.60" font-size="3.75" text-anchor="start" fill="#1a1a1a" stroke="#1a1a1a" stroke-width="0.22" ><tspan font-style="italic">P</tspan> = 0.2292</text>
<line x1="238.10" y1="263.30" x2="238.10" y2="264.80" stroke="#222" stroke-width="0.6" />
<text x="238.00" y="269.60" font-size="3.5" text-anchor="middle" fill="#1a1a1a" stroke="#1a1a1a" stroke-width="0.22" >Q1</text>
<rect x="256.40" y="192.89" width="11.80" height="70.41" fill="#d4046a" />
<rect x="269.60" y="229.88" width="11.90" height="33.42" fill="#595959" />
<line x1="262.30" y1="180.50" x2="262.30" y2="208.70" stroke="#262626" stroke-width="0.6" />
<line x1="260.90" y1="180.50" x2="263.70" y2="180.50" stroke="#262626" stroke-width="0.6" />
<line x1="260.90" y1="208.70" x2="263.70" y2="208.70" stroke="#262626" stroke-width="0.6" />
<line x1="275.55" y1="199.50" x2="275.55" y2="253.40" stroke="#262626" stroke-width="0.6" />
<line x1="274.15" y1="199.50" x2="276.95" y2="199.50" stroke="#262626" stroke-width="0.6" />
<line x1="274.15" y1="253.40" x2="276.95" y2="253.40" stroke="#262626" stroke-width="0.6" />
<text x="261.40" y="178.00" font-size="3.75" text-anchor="start" fill="#1a1a1a" stroke="#1a1a1a" stroke-width="0.22" ><tspan font-style="italic">P</tspan> = 0.0221</text>
<line x1="268.90" y1="263.30" x2="268.90" y2="264.80" stroke="#222" stroke-width="0.6" />
<text x="268.80" y="269.60" font-size="3.5" text-anchor="middle" fill="#1a1a1a" stroke="#1a1a1a" stroke-width="0.22" >Q2</text>
<rect x="287.00" y="193.72" width="12.00" height="69.58" fill="#d4046a" />
<rect x="300.30" y="235.76" width="11.70" height="27.54" fill="#595959" />
<line x1="293.00" y1="181.00" x2="293.00" y2="210.70" stroke="#262626" stroke-width="0.6" />
<line x1="291.60" y1="181.00" x2="294.40" y2="181.00" stroke="#262626" stroke-width="0.6" />
<line x1="291.60" y1="210.70" x2="294.40" y2="210.70" stroke="#262626" stroke-width="0.6" />
<line x1="306.15" y1="202.80" x2="306.15" y2="257.30" stroke="#262626" stroke-width="0.6" />
<line x1="304.75" y1="202.80" x2="307.55" y2="202.80" stroke="#262626" stroke-width="0.6" />
<line x1="304.75" y1="257.30" x2="307.55" y2="257.30" stroke="#262626" stroke-width="0.6" />
<text x="290.80" y="179.30" font-size="3.75" text-anchor="start" fill="#1a1a1a" stroke="#1a1a1a" stroke-width="0.22" ><tspan font-style="italic">P</tspan> = 0.0123</text>
<line x1="299.70" y1="263.30" x2="299.70" y2="264.80" stroke="#222" stroke-width="0.6" />
<text x="299.60" y="269.60" font-size="3.5" text-anchor="middle" fill="#1a1a1a" stroke="#1a1a1a" stroke-width="0.22" >Q3</text>
<rect x="317.80" y="171.50" width="11.90" height="91.80" fill="#d4046a" />
<rect x="331.00" y="240.35" width="11.70" height="22.95" fill="#595959" />
<line x1="323.75" y1="171.40" x2="323.75" y2="186.00" stroke="#262626" stroke-width="0.6" />
<line x1="322.35" y1="171.40" x2="325.15" y2="171.40" stroke="#262626" stroke-width="0.6" />
<line x1="322.35" y1="186.00" x2="325.15" y2="186.00" stroke="#262626" stroke-width="0.6" />
<line x1="336.85" y1="210.70" x2="336.85" y2="257.90" stroke="#262626" stroke-width="0.6" />
<line x1="335.45" y1="210.70" x2="338.25" y2="210.70" stroke="#262626" stroke-width="0.6" />
<line x1="335.45" y1="257.90" x2="338.25" y2="257.90" stroke="#262626" stroke-width="0.6" />
<text x="323.30" y="169.50" font-size="3.75" text-anchor="start" fill="#1a1a1a" stroke="#1a1a1a" stroke-width="0.22" ><tspan font-style="italic">P</tspan> &lt; 0.0001</text>
<line x1="330.40" y1="263.30" x2="330.40" y2="264.80" stroke="#222" stroke-width="0.6" />
<text x="330.30" y="269.60" font-size="3.5" text-anchor="middle" fill="#1a1a1a" stroke="#1a1a1a" stroke-width="0.22" >Q4</text>
<rect x="348.50" y="204.27" width="11.50" height="59.03" fill="#d4046a" />
<rect x="361.40" y="202.07" width="11.80" height="61.23" fill="#595959" />
<line x1="354.25" y1="183.40" x2="354.25" y2="230.70" stroke="#262626" stroke-width="0.6" />
<line x1="352.85" y1="183.40" x2="355.65" y2="183.40" stroke="#262626" stroke-width="0.6" />
<line x1="352.85" y1="230.70" x2="355.65" y2="230.70" stroke="#262626" stroke-width="0.6" />
<line x1="367.30" y1="175.20" x2="367.30" y2="242.70" stroke="#262626" stroke-width="0.6" />
<line x1="365.90" y1="175.20" x2="368.70" y2="175.20" stroke="#262626" stroke-width="0.6" />
<line x1="365.90" y1="242.70" x2="368.70" y2="242.70" stroke="#262626" stroke-width="0.6" />
<text x="352.50" y="173.60" font-size="3.75" text-anchor="start" fill="#1a1a1a" stroke="#1a1a1a" stroke-width="0.22" ><tspan font-style="italic">P</tspan> = 0.7233</text>
<line x1="360.70" y1="263.30" x2="360.70" y2="264.80" stroke="#222" stroke-width="0.6" />
<text x="360.60" y="269.60" font-size="3.5" text-anchor="middle" fill="#1a1a1a" stroke="#1a1a1a" stroke-width="0.22" >Missing</text>
<line x1="221.20" y1="263.30" x2="376.60" y2="263.30" stroke="#222" stroke-width="0.7" />
<text transform="translate(208.60,217.70) rotate(-90)" font-size="3.69" text-anchor="middle" fill="#1a1a1a" stroke="#1a1a1a" stroke-width="0.22">Rate of MRD negative, % (95% CI)</text>
<rect x="335.60" y="158.65" width="5.20" height="2.30" fill="#d4046a" />
<text x="342.50" y="161.00" font-size="3.7" text-anchor="start" fill="#1a1a1a" stroke="#1a1a1a" stroke-width="0.22" >InO</text>
<rect x="353.30" y="158.65" width="5.60" height="2.30" fill="#595959" />
<text x="360.90" y="161.00" font-size="3.7" text-anchor="start" fill="#1a1a1a" stroke="#1a1a1a" stroke-width="0.22" >SC</text>
<text x="199.20" y="270.50" font-size="3.65" text-anchor="start" fill="#1a1a1a" stroke="#1a1a1a" stroke-width="0.22" >CD22 MESF</text>
<text x="199.10" y="277.70" font-size="3.6" text-anchor="start" fill="#1a1a1a" stroke="#1a1a1a" stroke-width="0.22" >Responding patients/total number of patients</text>
<text x="211.20" y="283.40" font-size="3.5" text-anchor="start" fill="#1a1a1a" stroke="#1a1a1a" stroke-width="0.22" >InO</text>
<text x="237.30" y="283.40" font-size="3.4" text-anchor="middle" fill="#1a1a1a" stroke="#1a1a1a" stroke-width="0.22" >22/30</text>
<text x="268.50" y="283.40" font-size="3.4" text-anchor="middle" fill="#1a1a1a" stroke="#1a1a1a" stroke-width="0.22" >30/38</text>
<text x="299.00" y="283.40" font-size="3.4" text-anchor="middle" fill="#1a1a1a" stroke="#1a1a1a" stroke-width="0.22" >33/41</text>
<text x="330.00" y="283.40" font-size="3.4" text-anchor="middle" fill="#1a1a1a" stroke="#1a1a1a" stroke-width="0.22" >22/33</text>
<text x="364.60" y="283.40" font-size="3.4" text-anchor="middle" fill="#1a1a1a" stroke="#1a1a1a" stroke-width="0.22" >14/22</text>
<text x="211.20" y="288.50" font-size="3.5" text-anchor="start" fill="#1a1a1a" stroke="#1a1a1a" stroke-width="0.22" >SC</text>
<text x="237.30" y="288.50" font-size="3.4" text-anchor="middle" fill="#1a1a1a" stroke="#1a1a1a" stroke-width="0.22" >11/33</text>
<text x="268.50" y="288.50" font-size="3.4" text-anchor="middle" fill="#1a1a1a" stroke="#1a1a1a" stroke-width="0.22" >11/27</text>
<text x="299.00" y="288.50" font-size="3.4" text-anchor="middle" fill="#1a1a1a" stroke="#1a1a1a" stroke-width="0.22" >10/25</text>
<text x="330.00" y="288.50" font-size="3.4" text-anchor="middle" fill="#1a1a1a" stroke="#1a1a1a" stroke-width="0.22" >12/32</text>
<text x="364.60" y="288.50" font-size="3.4" text-anchor="middle" fill="#1a1a1a" stroke="#1a1a1a" stroke-width="0.22" >6/9</text>
<text x="199.10" y="295.90" font-size="3.7" text-anchor="start" fill="#1a1a1a" stroke="#1a1a1a" stroke-width="0.22" >MRD negative, <tspan font-style="italic">n</tspan> (%)</text>
<text x="211.20" y="301.50" font-size="3.5" text-anchor="start" fill="#1a1a1a" stroke="#1a1a1a" stroke-width="0.22" >InO</text>
<text x="237.30" y="301.50" font-size="3.4" text-anchor="middle" fill="#1a1a1a" stroke="#1a1a1a" stroke-width="0.22" >13 (59.1)</text>
<text x="268.50" y="301.50" font-size="3.4" text-anchor="middle" fill="#1a1a1a" stroke="#1a1a1a" stroke-width="0.22" >23 (76.7)</text>
<text x="299.00" y="301.50" font-size="3.4" text-anchor="middle" fill="#1a1a1a" stroke="#1a1a1a" stroke-width="0.22" >25 (75.8)</text>
<text x="330.00" y="301.50" font-size="3.4" text-anchor="middle" fill="#1a1a1a" stroke="#1a1a1a" stroke-width="0.22" >22 (100.0)</text>
<text x="364.60" y="301.50" font-size="3.4" text-anchor="middle" fill="#1a1a1a" stroke="#1a1a1a" stroke-width="0.22" >9 (64.3)</text>
<text x="211.20" y="307.30" font-size="3.5" text-anchor="start" fill="#1a1a1a" stroke="#1a1a1a" stroke-width="0.22" >SC</text>
<text x="237.30" y="307.30" font-size="3.4" text-anchor="middle" fill="#1a1a1a" stroke="#1a1a1a" stroke-width="0.22" >5 (45.5)</text>
<text x="268.50" y="307.30" font-size="3.4" text-anchor="middle" fill="#1a1a1a" stroke="#1a1a1a" stroke-width="0.22" >4 (36.4)</text>
<text x="299.00" y="307.30" font-size="3.4" text-anchor="middle" fill="#1a1a1a" stroke="#1a1a1a" stroke-width="0.22" >3 (30.0)</text>
<text x="330.00" y="307.30" font-size="3.4" text-anchor="middle" fill="#1a1a1a" stroke="#1a1a1a" stroke-width="0.22" >3 (25.0)</text>
<text x="364.60" y="307.30" font-size="3.4" text-anchor="middle" fill="#1a1a1a" stroke="#1a1a1a" stroke-width="0.22" >4 (66.7)</text>
</g></svg></body></html>
